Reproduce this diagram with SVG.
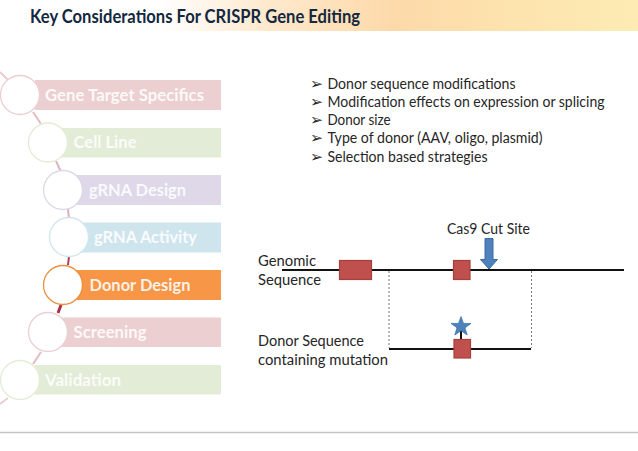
<svg xmlns="http://www.w3.org/2000/svg" width="638" height="451" viewBox="0 0 638 451">
<style>
text{font-family:Lato,"Open Sans","Liberation Sans",sans-serif}
.step{font-size:17.500px;font-weight:700;fill:#fff;fill-opacity:.88}
.body{font-size:15.500px;fill:#262626}
.bul{font-family:"DejaVu Sans",sans-serif;font-size:15.500px;fill:#262626}
.c{fill:#fff;stroke-width:1.300}
.gene{fill:#c0504d;stroke:#a5403d;stroke-width:1.200}
.line{stroke:#111;stroke-width:2;fill:none}
.dash{stroke:#777;stroke-width:1;stroke-dasharray:2 2;fill:none}
</style>
<defs>
<linearGradient id="hdr" x1="0" x2="1" y1="0" y2="0">
<stop offset="0" stop-color="#fff"/><stop offset=".25" stop-color="#fff"/><stop offset=".42" stop-color="#fee9cd"/><stop offset=".62" stop-color="#fdd9a9"/><stop offset=".8" stop-color="#fde3ae"/><stop offset="1" stop-color="#fdebb4"/>
</linearGradient>
</defs>
<rect width="638" height="451" fill="#fff"/>
<rect id="header" width="638" height="31" fill="url(#hdr)"/>
<text id="title" x="30" y="23" font-size="18" font-weight="700" fill="#14283f" textLength="330" lengthAdjust="spacingAndGlyphs">Key Considerations For CRISPR Gene Editing</text>
<line id="footer-rule" x1="0" y1="432.500" x2="638" y2="432.500" stroke="#c4c4c4" stroke-width="1.500"/>
<g id="connectors" fill="none" stroke-width="2">
<path d="M0 72L8 80" stroke="#ebcdcf"/>
<path d="M33 112L41 124" stroke="#e4bcc0"/>
<path d="M56 161L61 172" stroke="#dcb4bc"/>
<path d="M68 209L69 219" stroke="#d8b0bb"/>
<path d="M69 256L68 265" stroke="#b33a55"/>
<path d="M61 305L58 313" stroke="#a92f46" stroke-width="3"/>
<path d="M41 352L33 364" stroke="#e4bcc0"/>
<path d="M8 398L0 404" stroke="#ebcdcf"/>
</g>
<g id="node-gene-target"><rect x="35" y="80" width="186" height="30" fill="#eccfd0"/><circle class="c" cx="20" cy="95" r="19.500" stroke="#ecd0d1"/><text class="step" x="45" y="100.500" textLength="159" lengthAdjust="spacingAndGlyphs">Gene Target Specifics</text></g>
<g id="node-cell-line"><rect x="60" y="128" width="161" height="29.500" fill="#e3ecd6"/><circle class="c" cx="48" cy="142.500" r="19.500" stroke="#e4ecd6"/><text class="step" x="73.500" y="148" textLength="63" lengthAdjust="spacingAndGlyphs">Cell Line</text></g>
<g id="node-grna-design"><rect x="75" y="175" width="146" height="30" fill="#ded8e8"/><circle class="c" cx="63" cy="190" r="19.500" stroke="#ddd8e7"/><text class="step" x="89" y="195.500" textLength="97" lengthAdjust="spacingAndGlyphs">gRNA Design</text></g>
<g id="node-grna-activity"><rect x="80" y="222.500" width="141" height="30" fill="#cfe5ed"/><circle class="c" cx="69" cy="237" r="19.500" stroke="#cfe6ee"/><text class="step" x="94" y="243" textLength="103" lengthAdjust="spacingAndGlyphs">gRNA Activity</text></g>
<g id="node-donor-design"><rect x="75" y="270" width="146" height="30" fill="#f79646"/><circle class="c" cx="63" cy="285" r="19.500" stroke="#ee8f3f" stroke-width="1.600"/><text class="step" x="89.500" y="290.500" textLength="101" lengthAdjust="spacingAndGlyphs">Donor Design</text></g>
<g id="node-screening"><rect x="60" y="317.500" width="161" height="29.500" fill="#eccfd0"/><circle class="c" cx="48" cy="332" r="19.500" stroke="#ecd0d1"/><text class="step" x="73.500" y="337.500" textLength="73" lengthAdjust="spacingAndGlyphs">Screening</text></g>
<g id="node-validation"><rect x="35" y="365" width="186" height="29.500" fill="#e3ecd6"/><circle class="c" cx="20" cy="380" r="19.500" stroke="#e4ecd6"/><text class="step" x="45" y="385.500" textLength="76" lengthAdjust="spacingAndGlyphs">Validation</text></g>
<g id="bullets">
<text class="bul" x="310" y="88.500">➢</text><text class="body" x="327.500" y="88.500" textLength="188" lengthAdjust="spacingAndGlyphs">Donor sequence modifications</text>
<text class="bul" x="310" y="106.500">➢</text><text class="body" x="327.500" y="106.500" textLength="277" lengthAdjust="spacingAndGlyphs">Modification effects on expression or splicing</text>
<text class="bul" x="310" y="124.500">➢</text><text class="body" x="327.500" y="124.500" textLength="63" lengthAdjust="spacingAndGlyphs">Donor size</text>
<text class="bul" x="310" y="143">➢</text><text class="body" x="327.500" y="143" textLength="215" lengthAdjust="spacingAndGlyphs">Type of donor (AAV, oligo, plasmid)</text>
<text class="bul" x="310" y="161.500">➢</text><text class="body" x="327.500" y="161.500" textLength="160" lengthAdjust="spacingAndGlyphs">Selection based strategies</text>
</g>
<g id="genomic-sequence">
<line class="line" x1="282" y1="270" x2="624" y2="270"/>
<rect class="gene" x="339.500" y="260.500" width="32" height="19"/>
<rect class="gene" x="453.500" y="260.500" width="16.500" height="19"/>
<path d="M485 238.500H493V259.500H497.500L489 269L480.500 259.500H485Z" fill="#4f81bd" stroke="#3a6a9f"/>
<text class="body" x="258" y="266" textLength="58" lengthAdjust="spacingAndGlyphs">Genomic</text>
<text class="body" x="258" y="285" textLength="63" lengthAdjust="spacingAndGlyphs">Sequence</text>
<text class="body" x="447" y="233.500" textLength="83" lengthAdjust="spacingAndGlyphs">Cas9 Cut Site</text>
</g>
<g id="guides">
<line class="dash" x1="389" y1="271" x2="389" y2="348"/>
<line class="dash" x1="531.500" y1="271" x2="531.500" y2="348"/>
</g>
<g id="donor-sequence">
<line class="line" x1="389" y1="349" x2="531" y2="349"/>
<line class="line" x1="461" y1="330" x2="461" y2="339"/>
<rect class="gene" x="454" y="339.500" width="16.500" height="18.500"/>
<path d="M461 316.500L463.500 323.400H471L465 327.800L467.200 335L461 330.700L454.800 335L457 327.800L451 323.400H458.500Z" fill="#4f81bd" stroke="#3a6a9f" stroke-width=".7"/>
<text class="body" x="258" y="345.500" textLength="106" lengthAdjust="spacingAndGlyphs">Donor Sequence</text>
<text class="body" x="258" y="364.500" textLength="130" lengthAdjust="spacingAndGlyphs">containing mutation</text>
</g>
</svg>
